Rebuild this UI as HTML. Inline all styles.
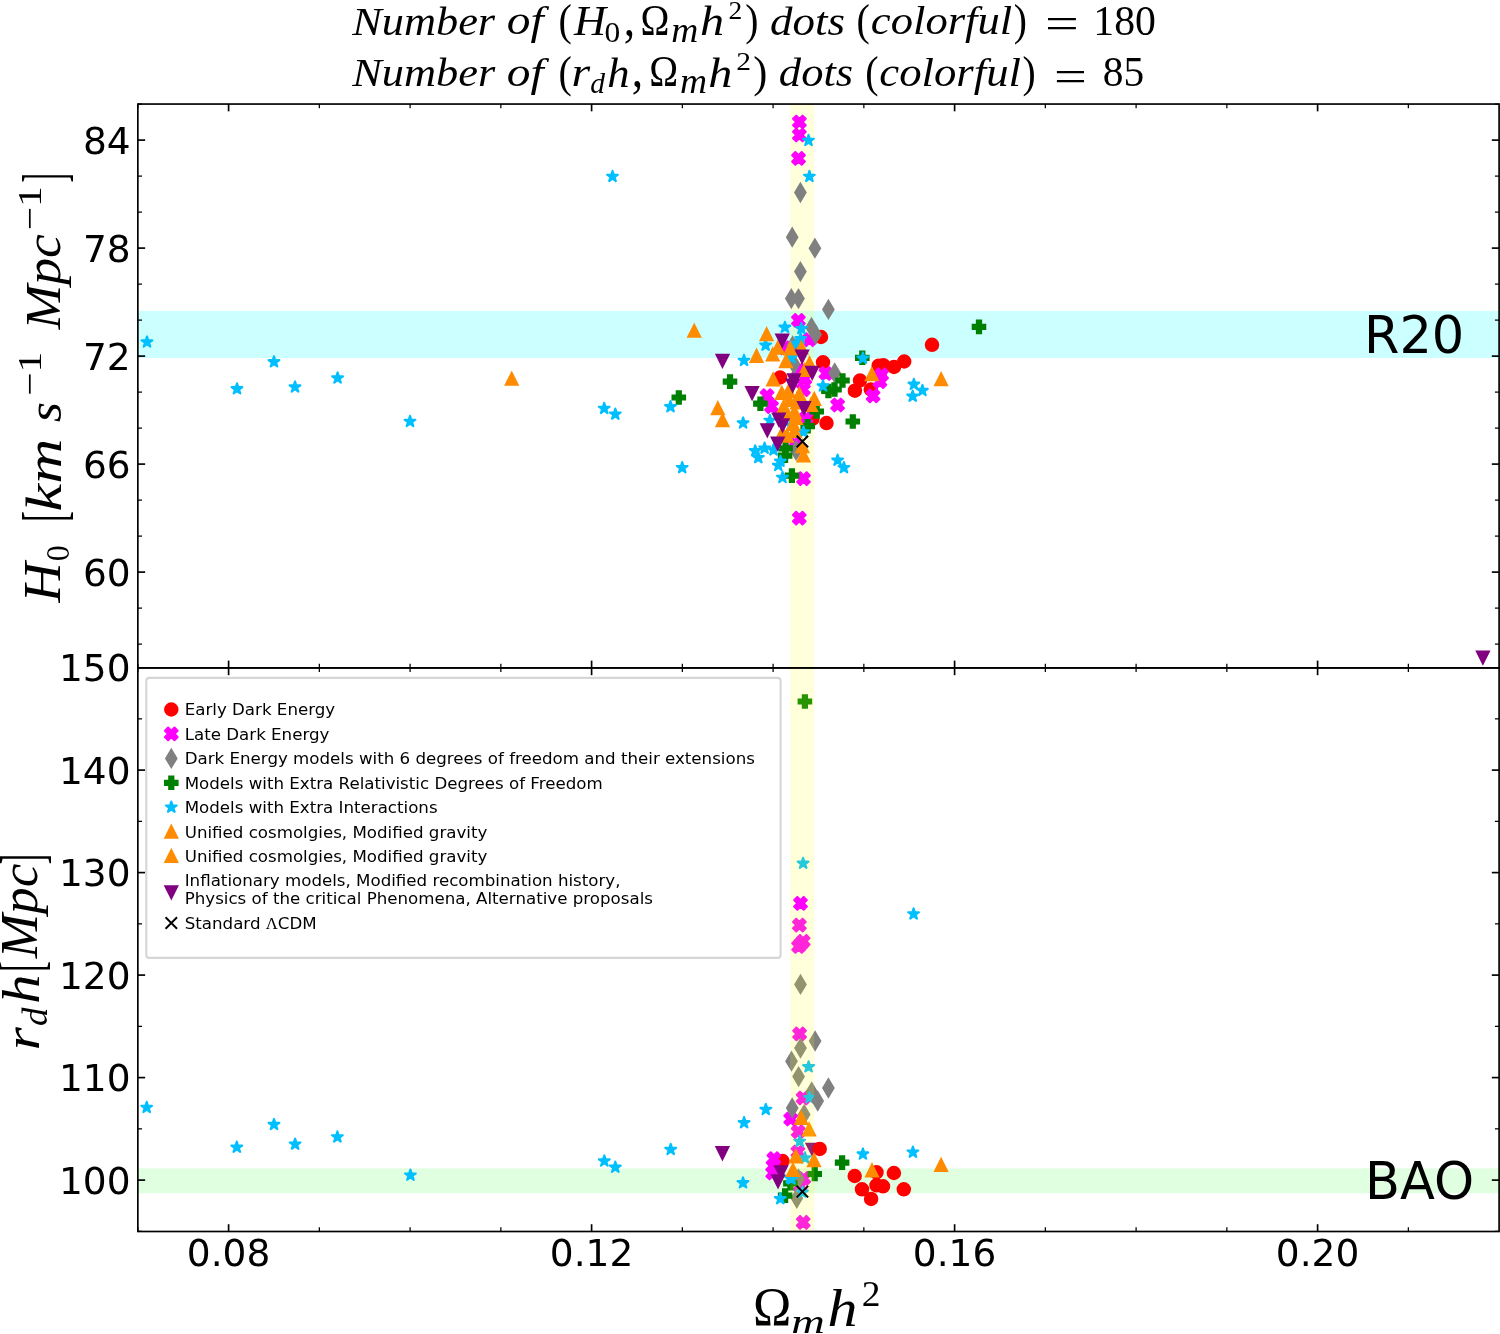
<!DOCTYPE html>
<html><head><meta charset="utf-8"><title>plot</title>
<style>html,body{margin:0;padding:0;background:#fff;} svg{display:block;}</style></head>
<body><svg width="1500" height="1334" viewBox="0 0 1500 1334">
<defs><clipPath id="ct"><rect x="137.85" y="104.05" width="1361.25" height="563.85"/></clipPath>
<clipPath id="cb"><rect x="137.85" y="667.9" width="1361.25" height="563.6"/></clipPath></defs>
<rect x="0" y="0" width="1500" height="1334" fill="#fff"/>
<rect x="137.85" y="310.9" width="1361.25" height="47.1" fill="rgb(204,255,255)"/>
<rect x="137.85" y="1168.4" width="1361.25" height="24.8" fill="rgb(224,254,224)"/>
<rect x="790.1" y="104.05" width="24.1" height="563.85" fill="#ffff00" fill-opacity="0.14"/>
<g clip-path="url(#ct)">
<circle cx="821.00" cy="337.00" r="6.20" fill="#ff0000" stroke="#ff0000" stroke-width="2.083"/>
<circle cx="823.00" cy="362.30" r="6.20" fill="#ff0000" stroke="#ff0000" stroke-width="2.083"/>
<circle cx="780.10" cy="377.50" r="6.20" fill="#ff0000" stroke="#ff0000" stroke-width="2.083"/>
<circle cx="904.20" cy="361.50" r="6.20" fill="#ff0000" stroke="#ff0000" stroke-width="2.083"/>
<circle cx="894.00" cy="366.90" r="6.20" fill="#ff0000" stroke="#ff0000" stroke-width="2.083"/>
<circle cx="883.30" cy="365.20" r="6.20" fill="#ff0000" stroke="#ff0000" stroke-width="2.083"/>
<circle cx="878.70" cy="365.70" r="6.20" fill="#ff0000" stroke="#ff0000" stroke-width="2.083"/>
<circle cx="879.90" cy="372.50" r="6.20" fill="#ff0000" stroke="#ff0000" stroke-width="2.083"/>
<circle cx="860.00" cy="380.50" r="6.20" fill="#ff0000" stroke="#ff0000" stroke-width="2.083"/>
<circle cx="854.90" cy="390.70" r="6.20" fill="#ff0000" stroke="#ff0000" stroke-width="2.083"/>
<circle cx="870.80" cy="389.50" r="6.20" fill="#ff0000" stroke="#ff0000" stroke-width="2.083"/>
<circle cx="932.00" cy="344.80" r="6.20" fill="#ff0000" stroke="#ff0000" stroke-width="2.083"/>
<circle cx="826.50" cy="423.10" r="6.20" fill="#ff0000" stroke="#ff0000" stroke-width="2.083"/>
<circle cx="812.40" cy="418.90" r="6.20" fill="#ff0000" stroke="#ff0000" stroke-width="2.083"/>
<path d="M796.23 115.65L799.40 118.83L802.57 115.65L805.75 118.83L802.57 122.00L805.75 125.17L802.57 128.35L799.40 125.17L796.23 128.35L793.05 125.17L796.23 122.00L793.05 118.83Z" fill="#ff00ff" stroke="#ff00ff" stroke-width="2.083" stroke-linejoin="round"/>
<path d="M796.23 128.65L799.40 131.82L802.57 128.65L805.75 131.82L802.57 135.00L805.75 138.18L802.57 141.35L799.40 138.18L796.23 141.35L793.05 138.18L796.23 135.00L793.05 131.82Z" fill="#ff00ff" stroke="#ff00ff" stroke-width="2.083" stroke-linejoin="round"/>
<path d="M795.33 152.05L798.50 155.22L801.67 152.05L804.85 155.22L801.67 158.40L804.85 161.58L801.67 164.75L798.50 161.58L795.33 164.75L792.15 161.58L795.33 158.40L792.15 155.22Z" fill="#ff00ff" stroke="#ff00ff" stroke-width="2.083" stroke-linejoin="round"/>
<path d="M795.23 314.05L798.40 317.22L801.57 314.05L804.75 317.22L801.57 320.40L804.75 323.57L801.57 326.75L798.40 323.57L795.23 326.75L792.05 323.57L795.23 320.40L792.05 317.22Z" fill="#ff00ff" stroke="#ff00ff" stroke-width="2.083" stroke-linejoin="round"/>
<path d="M806.33 333.35L809.50 336.52L812.67 333.35L815.85 336.52L812.67 339.70L815.85 342.88L812.67 346.05L809.50 342.88L806.33 346.05L803.15 342.88L806.33 339.70L803.15 336.52Z" fill="#ff00ff" stroke="#ff00ff" stroke-width="2.083" stroke-linejoin="round"/>
<path d="M781.33 341.45L784.50 344.62L787.67 341.45L790.85 344.62L787.67 347.80L790.85 350.98L787.67 354.15L784.50 350.98L781.33 354.15L778.15 350.98L781.33 347.80L778.15 344.62Z" fill="#ff00ff" stroke="#ff00ff" stroke-width="2.083" stroke-linejoin="round"/>
<path d="M795.53 363.65L798.70 366.82L801.88 363.65L805.05 366.82L801.88 370.00L805.05 373.18L801.88 376.35L798.70 373.18L795.53 376.35L792.35 373.18L795.53 370.00L792.35 366.82Z" fill="#ff00ff" stroke="#ff00ff" stroke-width="2.083" stroke-linejoin="round"/>
<path d="M822.83 367.15L826.00 370.32L829.17 367.15L832.35 370.32L829.17 373.50L832.35 376.68L829.17 379.85L826.00 376.68L822.83 379.85L819.65 376.68L822.83 373.50L819.65 370.32Z" fill="#ff00ff" stroke="#ff00ff" stroke-width="2.083" stroke-linejoin="round"/>
<path d="M801.62 372.45L804.80 375.62L807.97 372.45L811.15 375.62L807.97 378.80L811.15 381.98L807.97 385.15L804.80 381.98L801.62 385.15L798.45 381.98L801.62 378.80L798.45 375.62Z" fill="#ff00ff" stroke="#ff00ff" stroke-width="2.083" stroke-linejoin="round"/>
<path d="M800.23 383.25L803.40 386.43L806.57 383.25L809.75 386.43L806.57 389.60L809.75 392.78L806.57 395.95L803.40 392.78L800.23 395.95L797.05 392.78L800.23 389.60L797.05 386.43Z" fill="#ff00ff" stroke="#ff00ff" stroke-width="2.083" stroke-linejoin="round"/>
<path d="M763.83 389.35L767.00 392.52L770.17 389.35L773.35 392.52L770.17 395.70L773.35 398.88L770.17 402.05L767.00 398.88L763.83 402.05L760.65 398.88L763.83 395.70L760.65 392.52Z" fill="#ff00ff" stroke="#ff00ff" stroke-width="2.083" stroke-linejoin="round"/>
<path d="M768.33 400.25L771.50 403.43L774.67 400.25L777.85 403.43L774.67 406.60L777.85 409.78L774.67 412.95L771.50 409.78L768.33 412.95L765.15 409.78L768.33 406.60L765.15 403.43Z" fill="#ff00ff" stroke="#ff00ff" stroke-width="2.083" stroke-linejoin="round"/>
<path d="M834.43 398.65L837.60 401.82L840.77 398.65L843.95 401.82L840.77 405.00L843.95 408.18L840.77 411.35L837.60 408.18L834.43 411.35L831.25 408.18L834.43 405.00L831.25 401.82Z" fill="#ff00ff" stroke="#ff00ff" stroke-width="2.083" stroke-linejoin="round"/>
<path d="M869.93 389.45L873.10 392.62L876.27 389.45L879.45 392.62L876.27 395.80L879.45 398.98L876.27 402.15L873.10 398.98L869.93 402.15L866.75 398.98L869.93 395.80L866.75 392.62Z" fill="#ff00ff" stroke="#ff00ff" stroke-width="2.083" stroke-linejoin="round"/>
<path d="M802.73 411.75L805.90 414.93L809.07 411.75L812.25 414.93L809.07 418.10L812.25 421.28L809.07 424.45L805.90 421.28L802.73 424.45L799.55 421.28L802.73 418.10L799.55 414.93Z" fill="#ff00ff" stroke="#ff00ff" stroke-width="2.083" stroke-linejoin="round"/>
<path d="M791.33 437.15L794.50 440.32L797.67 437.15L800.85 440.32L797.67 443.50L800.85 446.68L797.67 449.85L794.50 446.68L791.33 449.85L788.15 446.68L791.33 443.50L788.15 440.32Z" fill="#ff00ff" stroke="#ff00ff" stroke-width="2.083" stroke-linejoin="round"/>
<path d="M800.33 472.35L803.50 475.52L806.67 472.35L809.85 475.52L806.67 478.70L809.85 481.88L806.67 485.05L803.50 481.88L800.33 485.05L797.15 481.88L800.33 478.70L797.15 475.52Z" fill="#ff00ff" stroke="#ff00ff" stroke-width="2.083" stroke-linejoin="round"/>
<path d="M796.12 511.75L799.30 514.93L802.47 511.75L805.65 514.93L802.47 518.10L805.65 521.27L802.47 524.45L799.30 521.27L796.12 524.45L792.95 521.27L796.12 518.10L792.95 514.93Z" fill="#ff00ff" stroke="#ff00ff" stroke-width="2.083" stroke-linejoin="round"/>
<path d="M878.43 368.45L881.60 371.62L884.77 368.45L887.95 371.62L884.77 374.80L887.95 377.98L884.77 381.15L881.60 377.98L878.43 381.15L875.25 377.98L878.43 374.80L875.25 371.62Z" fill="#ff00ff" stroke="#ff00ff" stroke-width="2.083" stroke-linejoin="round"/>
<path d="M876.73 375.25L879.90 378.43L883.07 375.25L886.25 378.43L883.07 381.60L886.25 384.78L883.07 387.95L879.90 384.78L876.73 387.95L873.55 384.78L876.73 381.60L873.55 378.43Z" fill="#ff00ff" stroke="#ff00ff" stroke-width="2.083" stroke-linejoin="round"/>
<path d="M800.40 183.87L805.58 192.50L800.40 201.13L795.22 192.50Z" fill="#808080" stroke="#808080" stroke-width="2.083" stroke-linejoin="miter"/>
<path d="M792.20 228.57L797.38 237.20L792.20 245.83L787.02 237.20Z" fill="#808080" stroke="#808080" stroke-width="2.083" stroke-linejoin="miter"/>
<path d="M814.90 239.57L820.08 248.20L814.90 256.83L809.72 248.20Z" fill="#808080" stroke="#808080" stroke-width="2.083" stroke-linejoin="miter"/>
<path d="M800.40 262.97L805.58 271.60L800.40 280.23L795.22 271.60Z" fill="#808080" stroke="#808080" stroke-width="2.083" stroke-linejoin="miter"/>
<path d="M791.30 289.97L796.48 298.60L791.30 307.23L786.12 298.60Z" fill="#808080" stroke="#808080" stroke-width="2.083" stroke-linejoin="miter"/>
<path d="M798.50 289.97L803.68 298.60L798.50 307.23L793.32 298.60Z" fill="#808080" stroke="#808080" stroke-width="2.083" stroke-linejoin="miter"/>
<path d="M828.40 300.77L833.58 309.40L828.40 318.03L823.22 309.40Z" fill="#808080" stroke="#808080" stroke-width="2.083" stroke-linejoin="miter"/>
<path d="M811.50 318.77L816.68 327.40L811.50 336.03L806.32 327.40Z" fill="#808080" stroke="#808080" stroke-width="2.083" stroke-linejoin="miter"/>
<path d="M815.60 325.77L820.78 334.40L815.60 343.03L810.42 334.40Z" fill="#808080" stroke="#808080" stroke-width="2.083" stroke-linejoin="miter"/>
<path d="M792.60 337.37L797.78 346.00L792.60 354.63L787.42 346.00Z" fill="#808080" stroke="#808080" stroke-width="2.083" stroke-linejoin="miter"/>
<path d="M794.00 355.37L799.18 364.00L794.00 372.63L788.82 364.00Z" fill="#808080" stroke="#808080" stroke-width="2.083" stroke-linejoin="miter"/>
<path d="M834.70 364.37L839.88 373.00L834.70 381.63L829.52 373.00Z" fill="#808080" stroke="#808080" stroke-width="2.083" stroke-linejoin="miter"/>
<path d="M796.10 441.77L801.28 450.40L796.10 459.03L790.92 450.40Z" fill="#808080" stroke="#808080" stroke-width="2.083" stroke-linejoin="miter"/>
<path d="M976.92 320.65L981.08 320.65L981.08 324.82L985.25 324.82L985.25 328.98L981.08 328.98L981.08 333.15L976.92 333.15L976.92 328.98L972.75 328.98L972.75 324.82L976.92 324.82Z" fill="#008000" stroke="#008000" stroke-width="2.083" stroke-linejoin="miter"/>
<path d="M860.22 351.55L864.38 351.55L864.38 355.72L868.55 355.72L868.55 359.88L864.38 359.88L864.38 364.05L860.22 364.05L860.22 359.88L856.05 359.88L856.05 355.72L860.22 355.72Z" fill="#008000" stroke="#008000" stroke-width="2.083" stroke-linejoin="miter"/>
<path d="M727.92 375.35L732.08 375.35L732.08 379.52L736.25 379.52L736.25 383.68L732.08 383.68L732.08 387.85L727.92 387.85L727.92 383.68L723.75 383.68L723.75 379.52L727.92 379.52Z" fill="#008000" stroke="#008000" stroke-width="2.083" stroke-linejoin="miter"/>
<path d="M676.72 391.25L680.88 391.25L680.88 395.42L685.05 395.42L685.05 399.58L680.88 399.58L680.88 403.75L676.72 403.75L676.72 399.58L672.55 399.58L672.55 395.42L676.72 395.42Z" fill="#008000" stroke="#008000" stroke-width="2.083" stroke-linejoin="miter"/>
<path d="M840.42 374.25L844.58 374.25L844.58 378.42L848.75 378.42L848.75 382.58L844.58 382.58L844.58 386.75L840.42 386.75L840.42 382.58L836.25 382.58L836.25 378.42L840.42 378.42Z" fill="#008000" stroke="#008000" stroke-width="2.083" stroke-linejoin="miter"/>
<path d="M832.42 383.25L836.58 383.25L836.58 387.42L840.75 387.42L840.75 391.58L836.58 391.58L836.58 395.75L832.42 395.75L832.42 391.58L828.25 391.58L828.25 387.42L832.42 387.42Z" fill="#008000" stroke="#008000" stroke-width="2.083" stroke-linejoin="miter"/>
<path d="M758.32 397.45L762.48 397.45L762.48 401.62L766.65 401.62L766.65 405.78L762.48 405.78L762.48 409.95L758.32 409.95L758.32 405.78L754.15 405.78L754.15 401.62L758.32 401.62Z" fill="#008000" stroke="#008000" stroke-width="2.083" stroke-linejoin="miter"/>
<path d="M814.62 405.25L818.78 405.25L818.78 409.42L822.95 409.42L822.95 413.58L818.78 413.58L818.78 417.75L814.62 417.75L814.62 413.58L810.45 413.58L810.45 409.42L814.62 409.42Z" fill="#008000" stroke="#008000" stroke-width="2.083" stroke-linejoin="miter"/>
<path d="M805.62 419.95L809.78 419.95L809.78 424.12L813.95 424.12L813.95 428.28L809.78 428.28L809.78 432.45L805.62 432.45L805.62 428.28L801.45 428.28L801.45 424.12L805.62 424.12Z" fill="#008000" stroke="#008000" stroke-width="2.083" stroke-linejoin="miter"/>
<path d="M850.72 415.25L854.88 415.25L854.88 419.42L859.05 419.42L859.05 423.58L854.88 423.58L854.88 427.75L850.72 427.75L850.72 423.58L846.55 423.58L846.55 419.42L850.72 419.42Z" fill="#008000" stroke="#008000" stroke-width="2.083" stroke-linejoin="miter"/>
<path d="M783.52 442.05L787.68 442.05L787.68 446.22L791.85 446.22L791.85 450.38L787.68 450.38L787.68 454.55L783.52 454.55L783.52 450.38L779.35 450.38L779.35 446.22L783.52 446.22Z" fill="#008000" stroke="#008000" stroke-width="2.083" stroke-linejoin="miter"/>
<path d="M783.02 449.35L787.18 449.35L787.18 453.52L791.35 453.52L791.35 457.68L787.18 457.68L787.18 461.85L783.02 461.85L783.02 457.68L778.85 457.68L778.85 453.52L783.02 453.52Z" fill="#008000" stroke="#008000" stroke-width="2.083" stroke-linejoin="miter"/>
<path d="M789.82 469.35L793.98 469.35L793.98 473.52L798.15 473.52L798.15 477.68L793.98 477.68L793.98 481.85L789.82 481.85L789.82 477.68L785.65 477.68L785.65 473.52L789.82 473.52Z" fill="#008000" stroke="#008000" stroke-width="2.083" stroke-linejoin="miter"/>
<path d="M826.32 384.75L830.48 384.75L830.48 388.92L834.65 388.92L834.65 393.08L830.48 393.08L830.48 397.25L826.32 397.25L826.32 393.08L822.15 393.08L822.15 388.92L826.32 388.92Z" fill="#008000" stroke="#008000" stroke-width="2.083" stroke-linejoin="miter"/>
<path d="M147.00 336.40L145.72 340.34L141.58 340.34L144.93 342.77L143.65 346.71L147.00 344.28L150.35 346.71L149.07 342.77L152.42 340.34L148.28 340.34Z" fill="#00bfff" stroke="#00bfff" stroke-width="2.083" stroke-linejoin="round"/>
<path d="M237.00 383.20L235.72 387.14L231.58 387.14L234.93 389.57L233.65 393.51L237.00 391.08L240.35 393.51L239.07 389.57L242.42 387.14L238.28 387.14Z" fill="#00bfff" stroke="#00bfff" stroke-width="2.083" stroke-linejoin="round"/>
<path d="M274.00 356.20L272.72 360.14L268.58 360.14L271.93 362.57L270.65 366.51L274.00 364.08L277.35 366.51L276.07 362.57L279.42 360.14L275.28 360.14Z" fill="#00bfff" stroke="#00bfff" stroke-width="2.083" stroke-linejoin="round"/>
<path d="M295.00 381.40L293.72 385.34L289.58 385.34L292.93 387.77L291.65 391.71L295.00 389.28L298.35 391.71L297.07 387.77L300.42 385.34L296.28 385.34Z" fill="#00bfff" stroke="#00bfff" stroke-width="2.083" stroke-linejoin="round"/>
<path d="M337.60 372.40L336.32 376.34L332.18 376.34L335.53 378.77L334.25 382.71L337.60 380.28L340.95 382.71L339.67 378.77L343.02 376.34L338.88 376.34Z" fill="#00bfff" stroke="#00bfff" stroke-width="2.083" stroke-linejoin="round"/>
<path d="M410.00 415.80L408.72 419.74L404.58 419.74L407.93 422.17L406.65 426.11L410.00 423.68L413.35 426.11L412.07 422.17L415.42 419.74L411.28 419.74Z" fill="#00bfff" stroke="#00bfff" stroke-width="2.083" stroke-linejoin="round"/>
<path d="M612.50 170.80L611.22 174.74L607.08 174.74L610.43 177.17L609.15 181.11L612.50 178.68L615.85 181.11L614.57 177.17L617.92 174.74L613.78 174.74Z" fill="#00bfff" stroke="#00bfff" stroke-width="2.083" stroke-linejoin="round"/>
<path d="M604.20 402.80L602.92 406.74L598.78 406.74L602.13 409.17L600.85 413.11L604.20 410.68L607.55 413.11L606.27 409.17L609.62 406.74L605.48 406.74Z" fill="#00bfff" stroke="#00bfff" stroke-width="2.083" stroke-linejoin="round"/>
<path d="M615.30 408.50L614.02 412.44L609.88 412.44L613.23 414.87L611.95 418.81L615.30 416.38L618.65 418.81L617.37 414.87L620.72 412.44L616.58 412.44Z" fill="#00bfff" stroke="#00bfff" stroke-width="2.083" stroke-linejoin="round"/>
<path d="M670.50 401.10L669.22 405.04L665.08 405.04L668.43 407.47L667.15 411.41L670.50 408.98L673.85 411.41L672.57 407.47L675.92 405.04L671.78 405.04Z" fill="#00bfff" stroke="#00bfff" stroke-width="2.083" stroke-linejoin="round"/>
<path d="M682.20 462.00L680.92 465.94L676.78 465.94L680.13 468.37L678.85 472.31L682.20 469.88L685.55 472.31L684.27 468.37L687.62 465.94L683.48 465.94Z" fill="#00bfff" stroke="#00bfff" stroke-width="2.083" stroke-linejoin="round"/>
<path d="M808.50 134.80L807.22 138.74L803.08 138.74L806.43 141.17L805.15 145.11L808.50 142.68L811.85 145.11L810.57 141.17L813.92 138.74L809.78 138.74Z" fill="#00bfff" stroke="#00bfff" stroke-width="2.083" stroke-linejoin="round"/>
<path d="M809.40 170.80L808.12 174.74L803.98 174.74L807.33 177.17L806.05 181.11L809.40 178.68L812.75 181.11L811.47 177.17L814.82 174.74L810.68 174.74Z" fill="#00bfff" stroke="#00bfff" stroke-width="2.083" stroke-linejoin="round"/>
<path d="M784.90 321.70L783.62 325.64L779.48 325.64L782.83 328.07L781.55 332.01L784.90 329.58L788.25 332.01L786.97 328.07L790.32 325.64L786.18 325.64Z" fill="#00bfff" stroke="#00bfff" stroke-width="2.083" stroke-linejoin="round"/>
<path d="M801.40 323.00L800.12 326.94L795.98 326.94L799.33 329.37L798.05 333.31L801.40 330.88L804.75 333.31L803.47 329.37L806.82 326.94L802.68 326.94Z" fill="#00bfff" stroke="#00bfff" stroke-width="2.083" stroke-linejoin="round"/>
<path d="M765.60 339.50L764.32 343.44L760.18 343.44L763.53 345.87L762.25 349.81L765.60 347.38L768.95 349.81L767.67 345.87L771.02 343.44L766.88 343.44Z" fill="#00bfff" stroke="#00bfff" stroke-width="2.083" stroke-linejoin="round"/>
<path d="M744.00 354.80L742.72 358.74L738.58 358.74L741.93 361.17L740.65 365.11L744.00 362.68L747.35 365.11L746.07 361.17L749.42 358.74L745.28 358.74Z" fill="#00bfff" stroke="#00bfff" stroke-width="2.083" stroke-linejoin="round"/>
<path d="M800.70 333.10L799.42 337.04L795.28 337.04L798.63 339.47L797.35 343.41L800.70 340.98L804.05 343.41L802.77 339.47L806.12 337.04L801.98 337.04Z" fill="#00bfff" stroke="#00bfff" stroke-width="2.083" stroke-linejoin="round"/>
<path d="M796.70 337.90L795.42 341.84L791.28 341.84L794.63 344.27L793.35 348.21L796.70 345.78L800.05 348.21L798.77 344.27L802.12 341.84L797.98 341.84Z" fill="#00bfff" stroke="#00bfff" stroke-width="2.083" stroke-linejoin="round"/>
<path d="M823.00 380.40L821.72 384.34L817.58 384.34L820.93 386.77L819.65 390.71L823.00 388.28L826.35 390.71L825.07 386.77L828.42 384.34L824.28 384.34Z" fill="#00bfff" stroke="#00bfff" stroke-width="2.083" stroke-linejoin="round"/>
<path d="M791.30 352.00L790.02 355.94L785.88 355.94L789.23 358.37L787.95 362.31L791.30 359.88L794.65 362.31L793.37 358.37L796.72 355.94L792.58 355.94Z" fill="#00bfff" stroke="#00bfff" stroke-width="2.083" stroke-linejoin="round"/>
<path d="M743.10 417.40L741.82 421.34L737.68 421.34L741.03 423.77L739.75 427.71L743.10 425.28L746.45 427.71L745.17 423.77L748.52 421.34L744.38 421.34Z" fill="#00bfff" stroke="#00bfff" stroke-width="2.083" stroke-linejoin="round"/>
<path d="M769.90 414.80L768.62 418.74L764.48 418.74L767.83 421.17L766.55 425.11L769.90 422.68L773.25 425.11L771.97 421.17L775.32 418.74L771.18 418.74Z" fill="#00bfff" stroke="#00bfff" stroke-width="2.083" stroke-linejoin="round"/>
<path d="M803.50 426.30L802.22 430.24L798.08 430.24L801.43 432.67L800.15 436.61L803.50 434.18L806.85 436.61L805.57 432.67L808.92 430.24L804.78 430.24Z" fill="#00bfff" stroke="#00bfff" stroke-width="2.083" stroke-linejoin="round"/>
<path d="M790.90 419.50L789.62 423.44L785.48 423.44L788.83 425.87L787.55 429.81L790.90 427.38L794.25 429.81L792.97 425.87L796.32 423.44L792.18 423.44Z" fill="#00bfff" stroke="#00bfff" stroke-width="2.083" stroke-linejoin="round"/>
<path d="M755.20 445.20L753.92 449.14L749.78 449.14L753.13 451.57L751.85 455.51L755.20 453.08L758.55 455.51L757.27 451.57L760.62 449.14L756.48 449.14Z" fill="#00bfff" stroke="#00bfff" stroke-width="2.083" stroke-linejoin="round"/>
<path d="M773.50 444.30L772.22 448.24L768.08 448.24L771.43 450.67L770.15 454.61L773.50 452.18L776.85 454.61L775.57 450.67L778.92 448.24L774.78 448.24Z" fill="#00bfff" stroke="#00bfff" stroke-width="2.083" stroke-linejoin="round"/>
<path d="M764.60 442.50L763.32 446.44L759.18 446.44L762.53 448.87L761.25 452.81L764.60 450.38L767.95 452.81L766.67 448.87L770.02 446.44L765.88 446.44Z" fill="#00bfff" stroke="#00bfff" stroke-width="2.083" stroke-linejoin="round"/>
<path d="M758.30 452.00L757.02 455.94L752.88 455.94L756.23 458.37L754.95 462.31L758.30 459.88L761.65 462.31L760.37 458.37L763.72 455.94L759.58 455.94Z" fill="#00bfff" stroke="#00bfff" stroke-width="2.083" stroke-linejoin="round"/>
<path d="M780.40 455.70L779.12 459.64L774.98 459.64L778.33 462.07L777.05 466.01L780.40 463.58L783.75 466.01L782.47 462.07L785.82 459.64L781.68 459.64Z" fill="#00bfff" stroke="#00bfff" stroke-width="2.083" stroke-linejoin="round"/>
<path d="M778.30 459.90L777.02 463.84L772.88 463.84L776.23 466.27L774.95 470.21L778.30 467.78L781.65 470.21L780.37 466.27L783.72 463.84L779.58 463.84Z" fill="#00bfff" stroke="#00bfff" stroke-width="2.083" stroke-linejoin="round"/>
<path d="M782.50 471.90L781.22 475.84L777.08 475.84L780.43 478.27L779.15 482.21L782.50 479.78L785.85 482.21L784.57 478.27L787.92 475.84L783.78 475.84Z" fill="#00bfff" stroke="#00bfff" stroke-width="2.083" stroke-linejoin="round"/>
<path d="M837.60 454.60L836.32 458.54L832.18 458.54L835.53 460.97L834.25 464.91L837.60 462.48L840.95 464.91L839.67 460.97L843.02 458.54L838.88 458.54Z" fill="#00bfff" stroke="#00bfff" stroke-width="2.083" stroke-linejoin="round"/>
<path d="M843.90 462.00L842.62 465.94L838.48 465.94L841.83 468.37L840.55 472.31L843.90 469.88L847.25 472.31L845.97 468.37L849.32 465.94L845.18 465.94Z" fill="#00bfff" stroke="#00bfff" stroke-width="2.083" stroke-linejoin="round"/>
<path d="M862.90 352.60L861.62 356.54L857.48 356.54L860.83 358.97L859.55 362.91L862.90 360.48L866.25 362.91L864.97 358.97L868.32 356.54L864.18 356.54Z" fill="#00bfff" stroke="#00bfff" stroke-width="2.083" stroke-linejoin="round"/>
<path d="M913.90 378.70L912.62 382.64L908.48 382.64L911.83 385.07L910.55 389.01L913.90 386.58L917.25 389.01L915.97 385.07L919.32 382.64L915.18 382.64Z" fill="#00bfff" stroke="#00bfff" stroke-width="2.083" stroke-linejoin="round"/>
<path d="M922.40 384.90L921.12 388.84L916.98 388.84L920.33 391.27L919.05 395.21L922.40 392.78L925.75 395.21L924.47 391.27L927.82 388.84L923.68 388.84Z" fill="#00bfff" stroke="#00bfff" stroke-width="2.083" stroke-linejoin="round"/>
<path d="M912.70 390.60L911.42 394.54L907.28 394.54L910.63 396.97L909.35 400.91L912.70 398.48L916.05 400.91L914.77 396.97L918.12 394.54L913.98 394.54Z" fill="#00bfff" stroke="#00bfff" stroke-width="2.083" stroke-linejoin="round"/>
<path d="M511.70 372.85L505.75 384.75L517.65 384.75Z" fill="#ff8c00" stroke="#ff8c00" stroke-width="2.083" stroke-linejoin="miter"/>
<path d="M694.20 324.85L688.25 336.75L700.15 336.75Z" fill="#ff8c00" stroke="#ff8c00" stroke-width="2.083" stroke-linejoin="miter"/>
<path d="M717.80 402.35L711.85 414.25L723.75 414.25Z" fill="#ff8c00" stroke="#ff8c00" stroke-width="2.083" stroke-linejoin="miter"/>
<path d="M722.50 414.35L716.55 426.25L728.45 426.25Z" fill="#ff8c00" stroke="#ff8c00" stroke-width="2.083" stroke-linejoin="miter"/>
<path d="M766.60 328.35L760.65 340.25L772.55 340.25Z" fill="#ff8c00" stroke="#ff8c00" stroke-width="2.083" stroke-linejoin="miter"/>
<path d="M756.50 349.95L750.55 361.85L762.45 361.85Z" fill="#ff8c00" stroke="#ff8c00" stroke-width="2.083" stroke-linejoin="miter"/>
<path d="M772.70 348.55L766.75 360.45L778.65 360.45Z" fill="#ff8c00" stroke="#ff8c00" stroke-width="2.083" stroke-linejoin="miter"/>
<path d="M777.80 341.85L771.85 353.75L783.75 353.75Z" fill="#ff8c00" stroke="#ff8c00" stroke-width="2.083" stroke-linejoin="miter"/>
<path d="M790.30 342.55L784.35 354.45L796.25 354.45Z" fill="#ff8c00" stroke="#ff8c00" stroke-width="2.083" stroke-linejoin="miter"/>
<path d="M801.40 341.85L795.45 353.75L807.35 353.75Z" fill="#ff8c00" stroke="#ff8c00" stroke-width="2.083" stroke-linejoin="miter"/>
<path d="M785.90 355.35L779.95 367.25L791.85 367.25Z" fill="#ff8c00" stroke="#ff8c00" stroke-width="2.083" stroke-linejoin="miter"/>
<path d="M809.50 357.35L803.55 369.25L815.45 369.25Z" fill="#ff8c00" stroke="#ff8c00" stroke-width="2.083" stroke-linejoin="miter"/>
<path d="M773.10 373.55L767.15 385.45L779.05 385.45Z" fill="#ff8c00" stroke="#ff8c00" stroke-width="2.083" stroke-linejoin="miter"/>
<path d="M804.80 364.05L798.85 375.95L810.75 375.95Z" fill="#ff8c00" stroke="#ff8c00" stroke-width="2.083" stroke-linejoin="miter"/>
<path d="M781.80 387.05L775.85 398.95L787.75 398.95Z" fill="#ff8c00" stroke="#ff8c00" stroke-width="2.083" stroke-linejoin="miter"/>
<path d="M788.60 385.05L782.65 396.95L794.55 396.95Z" fill="#ff8c00" stroke="#ff8c00" stroke-width="2.083" stroke-linejoin="miter"/>
<path d="M799.40 388.35L793.45 400.25L805.35 400.25Z" fill="#ff8c00" stroke="#ff8c00" stroke-width="2.083" stroke-linejoin="miter"/>
<path d="M814.30 393.05L808.35 404.95L820.25 404.95Z" fill="#ff8c00" stroke="#ff8c00" stroke-width="2.083" stroke-linejoin="miter"/>
<path d="M811.00 399.05L805.05 410.95L816.95 410.95Z" fill="#ff8c00" stroke="#ff8c00" stroke-width="2.083" stroke-linejoin="miter"/>
<path d="M783.70 400.65L777.75 412.55L789.65 412.55Z" fill="#ff8c00" stroke="#ff8c00" stroke-width="2.083" stroke-linejoin="miter"/>
<path d="M794.50 406.05L788.55 417.95L800.45 417.95Z" fill="#ff8c00" stroke="#ff8c00" stroke-width="2.083" stroke-linejoin="miter"/>
<path d="M793.10 418.15L787.15 430.05L799.05 430.05Z" fill="#ff8c00" stroke="#ff8c00" stroke-width="2.083" stroke-linejoin="miter"/>
<path d="M782.30 426.95L776.35 438.85L788.25 438.85Z" fill="#ff8c00" stroke="#ff8c00" stroke-width="2.083" stroke-linejoin="miter"/>
<path d="M794.50 424.95L788.55 436.85L800.45 436.85Z" fill="#ff8c00" stroke="#ff8c00" stroke-width="2.083" stroke-linejoin="miter"/>
<path d="M787.00 429.85L781.05 441.75L792.95 441.75Z" fill="#ff8c00" stroke="#ff8c00" stroke-width="2.083" stroke-linejoin="miter"/>
<path d="M802.40 440.25L796.45 452.15L808.35 452.15Z" fill="#ff8c00" stroke="#ff8c00" stroke-width="2.083" stroke-linejoin="miter"/>
<path d="M803.50 449.65L797.55 461.55L809.45 461.55Z" fill="#ff8c00" stroke="#ff8c00" stroke-width="2.083" stroke-linejoin="miter"/>
<path d="M789.00 394.05L783.05 405.95L794.95 405.95Z" fill="#ff8c00" stroke="#ff8c00" stroke-width="2.083" stroke-linejoin="miter"/>
<path d="M797.00 396.55L791.05 408.45L802.95 408.45Z" fill="#ff8c00" stroke="#ff8c00" stroke-width="2.083" stroke-linejoin="miter"/>
<path d="M786.00 408.05L780.05 419.95L791.95 419.95Z" fill="#ff8c00" stroke="#ff8c00" stroke-width="2.083" stroke-linejoin="miter"/>
<path d="M796.00 412.05L790.05 423.95L801.95 423.95Z" fill="#ff8c00" stroke="#ff8c00" stroke-width="2.083" stroke-linejoin="miter"/>
<path d="M871.90 368.25L865.95 380.15L877.85 380.15Z" fill="#ff8c00" stroke="#ff8c00" stroke-width="2.083" stroke-linejoin="miter"/>
<path d="M941.10 373.35L935.15 385.25L947.05 385.25Z" fill="#ff8c00" stroke="#ff8c00" stroke-width="2.083" stroke-linejoin="miter"/>
<path d="M1482.90 663.45L1476.95 651.55L1488.85 651.55Z" fill="#800080" stroke="#800080" stroke-width="2.083" stroke-linejoin="miter"/>
<path d="M722.50 366.75L716.55 354.85L728.45 354.85Z" fill="#800080" stroke="#800080" stroke-width="2.083" stroke-linejoin="miter"/>
<path d="M782.20 346.35L776.25 334.45L788.15 334.45Z" fill="#800080" stroke="#800080" stroke-width="2.083" stroke-linejoin="miter"/>
<path d="M802.10 362.55L796.15 350.65L808.05 350.65Z" fill="#800080" stroke="#800080" stroke-width="2.083" stroke-linejoin="miter"/>
<path d="M812.20 378.65L806.25 366.75L818.15 366.75Z" fill="#800080" stroke="#800080" stroke-width="2.083" stroke-linejoin="miter"/>
<path d="M794.00 386.15L788.05 374.25L799.95 374.25Z" fill="#800080" stroke="#800080" stroke-width="2.083" stroke-linejoin="miter"/>
<path d="M792.60 391.35L786.65 379.45L798.55 379.45Z" fill="#800080" stroke="#800080" stroke-width="2.083" stroke-linejoin="miter"/>
<path d="M752.10 398.95L746.15 387.05L758.05 387.05Z" fill="#800080" stroke="#800080" stroke-width="2.083" stroke-linejoin="miter"/>
<path d="M804.00 413.85L798.05 401.95L809.95 401.95Z" fill="#800080" stroke="#800080" stroke-width="2.083" stroke-linejoin="miter"/>
<path d="M778.80 425.35L772.85 413.45L784.75 413.45Z" fill="#800080" stroke="#800080" stroke-width="2.083" stroke-linejoin="miter"/>
<path d="M782.50 431.15L776.55 419.25L788.45 419.25Z" fill="#800080" stroke="#800080" stroke-width="2.083" stroke-linejoin="miter"/>
<path d="M767.30 436.15L761.35 424.25L773.25 424.25Z" fill="#800080" stroke="#800080" stroke-width="2.083" stroke-linejoin="miter"/>
<path d="M777.70 449.45L771.75 437.55L783.65 437.55Z" fill="#800080" stroke="#800080" stroke-width="2.083" stroke-linejoin="miter"/>
<path d="M796.65 435.75L808.15 447.25M796.65 447.25L808.15 435.75" stroke="#000" stroke-width="1.9" fill="none"/>
</g>
<g clip-path="url(#cb)">
<path d="M796.23 918.75L799.40 921.93L802.57 918.75L805.75 921.93L802.57 925.10L805.75 928.27L802.57 931.45L799.40 928.27L796.23 931.45L793.05 928.27L796.23 925.10L793.05 921.93Z" fill="#ff00ff" stroke="#ff00ff" stroke-width="2.083" stroke-linejoin="round"/>
<path d="M795.43 940.15L798.60 943.33L801.77 940.15L804.95 943.33L801.77 946.50L804.95 949.67L801.77 952.85L798.60 949.67L795.43 952.85L792.25 949.67L795.43 946.50L792.25 943.33Z" fill="#ff00ff" stroke="#ff00ff" stroke-width="2.083" stroke-linejoin="round"/>
<path d="M800.03 934.95L803.20 938.12L806.38 934.95L809.55 938.12L806.38 941.30L809.55 944.47L806.38 947.65L803.20 944.47L800.03 947.65L796.85 944.47L800.03 941.30L796.85 938.12Z" fill="#ff00ff" stroke="#ff00ff" stroke-width="2.083" stroke-linejoin="round"/>
<path d="M797.73 937.55L800.90 940.73L804.07 937.55L807.25 940.73L804.07 943.90L807.25 947.07L804.07 950.25L800.90 947.07L797.73 950.25L794.55 947.07L797.73 943.90L794.55 940.73Z" fill="#ff00ff" stroke="#ff00ff" stroke-width="2.083" stroke-linejoin="round"/>
<path d="M796.43 1027.55L799.60 1030.73L802.77 1027.55L805.95 1030.73L802.77 1033.90L805.95 1037.08L802.77 1040.25L799.60 1037.08L796.43 1040.25L793.25 1037.08L796.43 1033.90L793.25 1030.73Z" fill="#ff00ff" stroke="#ff00ff" stroke-width="2.083" stroke-linejoin="round"/>
<path d="M799.93 1091.65L803.10 1094.83L806.27 1091.65L809.45 1094.83L806.27 1098.00L809.45 1101.17L806.27 1104.35L803.10 1101.17L799.93 1104.35L796.75 1101.17L799.93 1098.00L796.75 1094.83Z" fill="#ff00ff" stroke="#ff00ff" stroke-width="2.083" stroke-linejoin="round"/>
<path d="M795.03 1125.35L798.20 1128.53L801.38 1125.35L804.55 1128.53L801.38 1131.70L804.55 1134.88L801.38 1138.05L798.20 1134.88L795.03 1138.05L791.85 1134.88L795.03 1131.70L791.85 1128.53Z" fill="#ff00ff" stroke="#ff00ff" stroke-width="2.083" stroke-linejoin="round"/>
<path d="M794.73 1145.65L797.90 1148.83L801.07 1145.65L804.25 1148.83L801.07 1152.00L804.25 1155.17L801.07 1158.35L797.90 1155.17L794.73 1158.35L791.55 1155.17L794.73 1152.00L791.55 1148.83Z" fill="#ff00ff" stroke="#ff00ff" stroke-width="2.083" stroke-linejoin="round"/>
<path d="M800.53 1172.15L803.70 1175.33L806.88 1172.15L810.05 1175.33L806.88 1178.50L810.05 1181.67L806.88 1184.85L803.70 1181.67L800.53 1184.85L797.35 1181.67L800.53 1178.50L797.35 1175.33Z" fill="#ff00ff" stroke="#ff00ff" stroke-width="2.083" stroke-linejoin="round"/>
<path d="M796.83 1179.65L800.00 1182.83L803.17 1179.65L806.35 1182.83L803.17 1186.00L806.35 1189.17L803.17 1192.35L800.00 1189.17L796.83 1192.35L793.65 1189.17L796.83 1186.00L793.65 1182.83Z" fill="#ff00ff" stroke="#ff00ff" stroke-width="2.083" stroke-linejoin="round"/>
<path d="M800.03 1215.95L803.20 1219.12L806.38 1215.95L809.55 1219.12L806.38 1222.30L809.55 1225.47L806.38 1228.65L803.20 1225.47L800.03 1228.65L796.85 1225.47L800.03 1222.30L796.85 1219.12Z" fill="#ff00ff" stroke="#ff00ff" stroke-width="2.083" stroke-linejoin="round"/>
<path d="M800.50 975.77L805.68 984.40L800.50 993.03L795.32 984.40Z" fill="#808080" stroke="#808080" stroke-width="2.083" stroke-linejoin="miter"/>
<path d="M800.50 1039.47L805.68 1048.10L800.50 1056.73L795.32 1048.10Z" fill="#808080" stroke="#808080" stroke-width="2.083" stroke-linejoin="miter"/>
<path d="M815.10 1032.37L820.28 1041.00L815.10 1049.63L809.92 1041.00Z" fill="#808080" stroke="#808080" stroke-width="2.083" stroke-linejoin="miter"/>
<path d="M791.50 1052.57L796.68 1061.20L791.50 1069.83L786.32 1061.20Z" fill="#808080" stroke="#808080" stroke-width="2.083" stroke-linejoin="miter"/>
<path d="M798.60 1067.97L803.78 1076.60L798.60 1085.23L793.42 1076.60Z" fill="#808080" stroke="#808080" stroke-width="2.083" stroke-linejoin="miter"/>
<path d="M811.70 1083.37L816.88 1092.00L811.70 1100.63L806.52 1092.00Z" fill="#808080" stroke="#808080" stroke-width="2.083" stroke-linejoin="miter"/>
<path d="M804.20 1105.87L809.38 1114.50L804.20 1123.13L799.02 1114.50Z" fill="#808080" stroke="#808080" stroke-width="2.083" stroke-linejoin="miter"/>
<path d="M798.40 1170.37L803.58 1179.00L798.40 1187.63L793.22 1179.00Z" fill="#808080" stroke="#808080" stroke-width="2.083" stroke-linejoin="miter"/>
<path d="M796.80 1189.67L801.98 1198.30L796.80 1206.93L791.62 1198.30Z" fill="#808080" stroke="#808080" stroke-width="2.083" stroke-linejoin="miter"/>
<path d="M802.82 695.25L806.98 695.25L806.98 699.42L811.15 699.42L811.15 703.58L806.98 703.58L806.98 707.75L802.82 707.75L802.82 703.58L798.65 703.58L798.65 699.42L802.82 699.42Z" fill="#008000" stroke="#008000" stroke-width="2.083" stroke-linejoin="miter"/>
<path d="M812.62 1167.75L816.78 1167.75L816.78 1171.92L820.95 1171.92L820.95 1176.08L816.78 1176.08L816.78 1180.25L812.62 1180.25L812.62 1176.08L808.45 1176.08L808.45 1171.92L812.62 1171.92Z" fill="#008000" stroke="#008000" stroke-width="2.083" stroke-linejoin="miter"/>
<path d="M788.32 1177.05L792.48 1177.05L792.48 1181.22L796.65 1181.22L796.65 1185.38L792.48 1185.38L792.48 1189.55L788.32 1189.55L788.32 1185.38L784.15 1185.38L784.15 1181.22L788.32 1181.22Z" fill="#008000" stroke="#008000" stroke-width="2.083" stroke-linejoin="miter"/>
<path d="M803.10 857.70L801.82 861.64L797.68 861.64L801.03 864.07L799.75 868.01L803.10 865.58L806.45 868.01L805.17 864.07L808.52 861.64L804.38 861.64Z" fill="#00bfff" stroke="#00bfff" stroke-width="2.083" stroke-linejoin="round"/>
<path d="M808.60 1061.20L807.32 1065.14L803.18 1065.14L806.53 1067.57L805.25 1071.51L808.60 1069.08L811.95 1071.51L810.67 1067.57L814.02 1065.14L809.88 1065.14Z" fill="#00bfff" stroke="#00bfff" stroke-width="2.083" stroke-linejoin="round"/>
<path d="M809.50 1092.00L808.22 1095.94L804.08 1095.94L807.43 1098.37L806.15 1102.31L809.50 1099.88L812.85 1102.31L811.57 1098.37L814.92 1095.94L810.78 1095.94Z" fill="#00bfff" stroke="#00bfff" stroke-width="2.083" stroke-linejoin="round"/>
<path d="M799.70 1135.80L798.42 1139.74L794.28 1139.74L797.63 1142.17L796.35 1146.11L799.70 1143.68L803.05 1146.11L801.77 1142.17L805.12 1139.74L800.98 1139.74Z" fill="#00bfff" stroke="#00bfff" stroke-width="2.083" stroke-linejoin="round"/>
<path d="M805.00 1152.30L803.72 1156.24L799.58 1156.24L802.93 1158.67L801.65 1162.61L805.00 1160.18L808.35 1162.61L807.07 1158.67L810.42 1156.24L806.28 1156.24Z" fill="#00bfff" stroke="#00bfff" stroke-width="2.083" stroke-linejoin="round"/>
<path d="M802.40 1186.70L801.12 1190.64L796.98 1190.64L800.33 1193.07L799.05 1197.01L802.40 1194.58L805.75 1197.01L804.47 1193.07L807.82 1190.64L803.68 1190.64Z" fill="#00bfff" stroke="#00bfff" stroke-width="2.083" stroke-linejoin="round"/>
<path d="M809.10 1123.55L803.15 1135.45L815.05 1135.45Z" fill="#ff8c00" stroke="#ff8c00" stroke-width="2.083" stroke-linejoin="miter"/>
<path d="M812.50 1155.65L806.55 1143.75L818.45 1143.75Z" fill="#800080" stroke="#800080" stroke-width="2.083" stroke-linejoin="miter"/>
</g>
<rect x="790.1" y="667.9" width="24.1" height="563.6" fill="#ffff00" fill-opacity="0.15"/>
<g clip-path="url(#cb)">
<circle cx="819.70" cy="1148.90" r="6.20" fill="#ff0000" stroke="#ff0000" stroke-width="2.083"/>
<circle cx="782.50" cy="1161.00" r="6.20" fill="#ff0000" stroke="#ff0000" stroke-width="2.083"/>
<circle cx="854.70" cy="1176.00" r="6.20" fill="#ff0000" stroke="#ff0000" stroke-width="2.083"/>
<circle cx="876.50" cy="1172.30" r="6.20" fill="#ff0000" stroke="#ff0000" stroke-width="2.083"/>
<circle cx="893.90" cy="1173.00" r="6.20" fill="#ff0000" stroke="#ff0000" stroke-width="2.083"/>
<circle cx="862.00" cy="1189.30" r="6.20" fill="#ff0000" stroke="#ff0000" stroke-width="2.083"/>
<circle cx="876.50" cy="1185.30" r="6.20" fill="#ff0000" stroke="#ff0000" stroke-width="2.083"/>
<circle cx="883.00" cy="1186.30" r="6.20" fill="#ff0000" stroke="#ff0000" stroke-width="2.083"/>
<circle cx="903.80" cy="1189.30" r="6.20" fill="#ff0000" stroke="#ff0000" stroke-width="2.083"/>
<circle cx="871.10" cy="1198.90" r="6.20" fill="#ff0000" stroke="#ff0000" stroke-width="2.083"/>
<path d="M797.33 896.95L800.50 900.12L803.67 896.95L806.85 900.12L803.67 903.30L806.85 906.47L803.67 909.65L800.50 906.47L797.33 909.65L794.15 906.47L797.33 903.30L794.15 900.12Z" fill="#ff00ff" stroke="#ff00ff" stroke-width="2.083" stroke-linejoin="round"/>
<path d="M787.53 1112.65L790.70 1115.83L793.88 1112.65L797.05 1115.83L793.88 1119.00L797.05 1122.17L793.88 1125.35L790.70 1122.17L787.53 1125.35L784.35 1122.17L787.53 1119.00L784.35 1115.83Z" fill="#ff00ff" stroke="#ff00ff" stroke-width="2.083" stroke-linejoin="round"/>
<path d="M770.73 1152.35L773.90 1155.53L777.07 1152.35L780.25 1155.53L777.07 1158.70L780.25 1161.88L777.07 1165.05L773.90 1161.88L770.73 1165.05L767.55 1161.88L770.73 1158.70L767.55 1155.53Z" fill="#ff00ff" stroke="#ff00ff" stroke-width="2.083" stroke-linejoin="round"/>
<path d="M769.93 1159.65L773.10 1162.83L776.27 1159.65L779.45 1162.83L776.27 1166.00L779.45 1169.17L776.27 1172.35L773.10 1169.17L769.93 1172.35L766.75 1169.17L769.93 1166.00L766.75 1162.83Z" fill="#ff00ff" stroke="#ff00ff" stroke-width="2.083" stroke-linejoin="round"/>
<path d="M769.53 1166.65L772.70 1169.83L775.88 1166.65L779.05 1169.83L775.88 1173.00L779.05 1176.17L775.88 1179.35L772.70 1176.17L769.53 1179.35L766.35 1176.17L769.53 1173.00L766.35 1169.83Z" fill="#ff00ff" stroke="#ff00ff" stroke-width="2.083" stroke-linejoin="round"/>
<path d="M828.40 1079.37L833.58 1088.00L828.40 1096.63L823.22 1088.00Z" fill="#808080" stroke="#808080" stroke-width="2.083" stroke-linejoin="miter"/>
<path d="M817.70 1092.37L822.88 1101.00L817.70 1109.63L812.52 1101.00Z" fill="#808080" stroke="#808080" stroke-width="2.083" stroke-linejoin="miter"/>
<path d="M792.20 1099.37L797.38 1108.00L792.20 1116.63L787.02 1108.00Z" fill="#808080" stroke="#808080" stroke-width="2.083" stroke-linejoin="miter"/>
<path d="M840.02 1156.35L844.18 1156.35L844.18 1160.52L848.35 1160.52L848.35 1164.68L844.18 1164.68L844.18 1168.85L840.02 1168.85L840.02 1164.68L835.85 1164.68L835.85 1160.52L840.02 1160.52Z" fill="#008000" stroke="#008000" stroke-width="2.083" stroke-linejoin="miter"/>
<path d="M783.02 1189.35L787.18 1189.35L787.18 1193.52L791.35 1193.52L791.35 1197.68L787.18 1197.68L787.18 1201.85L783.02 1201.85L783.02 1197.68L778.85 1197.68L778.85 1193.52L783.02 1193.52Z" fill="#008000" stroke="#008000" stroke-width="2.083" stroke-linejoin="miter"/>
<path d="M146.70 1101.80L145.42 1105.74L141.28 1105.74L144.63 1108.17L143.35 1112.11L146.70 1109.68L150.05 1112.11L148.77 1108.17L152.12 1105.74L147.98 1105.74Z" fill="#00bfff" stroke="#00bfff" stroke-width="2.083" stroke-linejoin="round"/>
<path d="M236.80 1141.60L235.52 1145.54L231.38 1145.54L234.73 1147.97L233.45 1151.91L236.80 1149.48L240.15 1151.91L238.87 1147.97L242.22 1145.54L238.08 1145.54Z" fill="#00bfff" stroke="#00bfff" stroke-width="2.083" stroke-linejoin="round"/>
<path d="M274.00 1118.90L272.72 1122.84L268.58 1122.84L271.93 1125.27L270.65 1129.21L274.00 1126.78L277.35 1129.21L276.07 1125.27L279.42 1122.84L275.28 1122.84Z" fill="#00bfff" stroke="#00bfff" stroke-width="2.083" stroke-linejoin="round"/>
<path d="M295.10 1138.50L293.82 1142.44L289.68 1142.44L293.03 1144.87L291.75 1148.81L295.10 1146.38L298.45 1148.81L297.17 1144.87L300.52 1142.44L296.38 1142.44Z" fill="#00bfff" stroke="#00bfff" stroke-width="2.083" stroke-linejoin="round"/>
<path d="M337.40 1131.30L336.12 1135.24L331.98 1135.24L335.33 1137.67L334.05 1141.61L337.40 1139.18L340.75 1141.61L339.47 1137.67L342.82 1135.24L338.68 1135.24Z" fill="#00bfff" stroke="#00bfff" stroke-width="2.083" stroke-linejoin="round"/>
<path d="M410.40 1169.50L409.12 1173.44L404.98 1173.44L408.33 1175.87L407.05 1179.81L410.40 1177.38L413.75 1179.81L412.47 1175.87L415.82 1173.44L411.68 1173.44Z" fill="#00bfff" stroke="#00bfff" stroke-width="2.083" stroke-linejoin="round"/>
<path d="M604.30 1155.40L603.02 1159.34L598.88 1159.34L602.23 1161.77L600.95 1165.71L604.30 1163.28L607.65 1165.71L606.37 1161.77L609.72 1159.34L605.58 1159.34Z" fill="#00bfff" stroke="#00bfff" stroke-width="2.083" stroke-linejoin="round"/>
<path d="M615.30 1161.60L614.02 1165.54L609.88 1165.54L613.23 1167.97L611.95 1171.91L615.30 1169.48L618.65 1171.91L617.37 1167.97L620.72 1165.54L616.58 1165.54Z" fill="#00bfff" stroke="#00bfff" stroke-width="2.083" stroke-linejoin="round"/>
<path d="M670.70 1143.90L669.42 1147.84L665.28 1147.84L668.63 1150.27L667.35 1154.21L670.70 1151.78L674.05 1154.21L672.77 1150.27L676.12 1147.84L671.98 1147.84Z" fill="#00bfff" stroke="#00bfff" stroke-width="2.083" stroke-linejoin="round"/>
<path d="M744.10 1117.10L742.82 1121.04L738.68 1121.04L742.03 1123.47L740.75 1127.41L744.10 1124.98L747.45 1127.41L746.17 1123.47L749.52 1121.04L745.38 1121.04Z" fill="#00bfff" stroke="#00bfff" stroke-width="2.083" stroke-linejoin="round"/>
<path d="M765.80 1103.90L764.52 1107.84L760.38 1107.84L763.73 1110.27L762.45 1114.21L765.80 1111.78L769.15 1114.21L767.87 1110.27L771.22 1107.84L767.08 1107.84Z" fill="#00bfff" stroke="#00bfff" stroke-width="2.083" stroke-linejoin="round"/>
<path d="M743.00 1177.20L741.72 1181.14L737.58 1181.14L740.93 1183.57L739.65 1187.51L743.00 1185.08L746.35 1187.51L745.07 1183.57L748.42 1181.14L744.28 1181.14Z" fill="#00bfff" stroke="#00bfff" stroke-width="2.083" stroke-linejoin="round"/>
<path d="M862.90 1148.40L861.62 1152.34L857.48 1152.34L860.83 1154.77L859.55 1158.71L862.90 1156.28L866.25 1158.71L864.97 1154.77L868.32 1152.34L864.18 1152.34Z" fill="#00bfff" stroke="#00bfff" stroke-width="2.083" stroke-linejoin="round"/>
<path d="M912.90 1146.50L911.62 1150.44L907.48 1150.44L910.83 1152.87L909.55 1156.81L912.90 1154.38L916.25 1156.81L914.97 1152.87L918.32 1150.44L914.18 1150.44Z" fill="#00bfff" stroke="#00bfff" stroke-width="2.083" stroke-linejoin="round"/>
<path d="M913.60 908.30L912.32 912.24L908.18 912.24L911.53 914.67L910.25 918.61L913.60 916.18L916.95 918.61L915.67 914.67L919.02 912.24L914.88 912.24Z" fill="#00bfff" stroke="#00bfff" stroke-width="2.083" stroke-linejoin="round"/>
<path d="M791.50 1173.30L790.22 1177.24L786.08 1177.24L789.43 1179.67L788.15 1183.61L791.50 1181.18L794.85 1183.61L793.57 1179.67L796.92 1177.24L792.78 1177.24Z" fill="#00bfff" stroke="#00bfff" stroke-width="2.083" stroke-linejoin="round"/>
<path d="M780.30 1193.10L779.02 1197.04L774.88 1197.04L778.23 1199.47L776.95 1203.41L780.30 1200.98L783.65 1203.41L782.37 1199.47L785.72 1197.04L781.58 1197.04Z" fill="#00bfff" stroke="#00bfff" stroke-width="2.083" stroke-linejoin="round"/>
<path d="M789.90 1172.30L788.62 1176.24L784.48 1176.24L787.83 1178.67L786.55 1182.61L789.90 1180.18L793.25 1182.61L791.97 1178.67L795.32 1176.24L791.18 1176.24Z" fill="#00bfff" stroke="#00bfff" stroke-width="2.083" stroke-linejoin="round"/>
<path d="M941.10 1159.05L935.15 1170.95L947.05 1170.95Z" fill="#ff8c00" stroke="#ff8c00" stroke-width="2.083" stroke-linejoin="miter"/>
<path d="M872.00 1164.45L866.05 1176.35L877.95 1176.35Z" fill="#ff8c00" stroke="#ff8c00" stroke-width="2.083" stroke-linejoin="miter"/>
<path d="M801.20 1112.05L795.25 1123.95L807.15 1123.95Z" fill="#ff8c00" stroke="#ff8c00" stroke-width="2.083" stroke-linejoin="miter"/>
<path d="M796.00 1150.55L790.05 1162.45L801.95 1162.45Z" fill="#ff8c00" stroke="#ff8c00" stroke-width="2.083" stroke-linejoin="miter"/>
<path d="M814.00 1154.25L808.05 1166.15L819.95 1166.15Z" fill="#ff8c00" stroke="#ff8c00" stroke-width="2.083" stroke-linejoin="miter"/>
<path d="M793.00 1164.05L787.05 1175.95L798.95 1175.95Z" fill="#ff8c00" stroke="#ff8c00" stroke-width="2.083" stroke-linejoin="miter"/>
<path d="M722.40 1159.05L716.45 1147.15L728.35 1147.15Z" fill="#800080" stroke="#800080" stroke-width="2.083" stroke-linejoin="miter"/>
<path d="M781.00 1178.15L775.05 1166.25L786.95 1166.25Z" fill="#800080" stroke="#800080" stroke-width="2.083" stroke-linejoin="miter"/>
<path d="M778.00 1187.15L772.05 1175.25L783.95 1175.25Z" fill="#800080" stroke="#800080" stroke-width="2.083" stroke-linejoin="miter"/>
<path d="M796.65 1185.85L808.15 1197.35M796.65 1197.35L808.15 1185.85" stroke="#000" stroke-width="1.9" fill="none"/>
</g>
<line x1="137.85" y1="644.10" x2="142.02" y2="644.10" stroke="#000" stroke-width="1.25"/><line x1="1499.1" y1="644.10" x2="1494.93" y2="644.10" stroke="#000" stroke-width="1.25"/>
<line x1="137.85" y1="608.10" x2="142.02" y2="608.10" stroke="#000" stroke-width="1.25"/><line x1="1499.1" y1="608.10" x2="1494.93" y2="608.10" stroke="#000" stroke-width="1.25"/>
<line x1="137.85" y1="572.10" x2="145.14" y2="572.10" stroke="#000" stroke-width="1.667"/><line x1="1499.1" y1="572.10" x2="1491.81" y2="572.10" stroke="#000" stroke-width="1.667"/>
<line x1="137.85" y1="536.10" x2="142.02" y2="536.10" stroke="#000" stroke-width="1.25"/><line x1="1499.1" y1="536.10" x2="1494.93" y2="536.10" stroke="#000" stroke-width="1.25"/>
<line x1="137.85" y1="500.10" x2="142.02" y2="500.10" stroke="#000" stroke-width="1.25"/><line x1="1499.1" y1="500.10" x2="1494.93" y2="500.10" stroke="#000" stroke-width="1.25"/>
<line x1="137.85" y1="464.10" x2="145.14" y2="464.10" stroke="#000" stroke-width="1.667"/><line x1="1499.1" y1="464.10" x2="1491.81" y2="464.10" stroke="#000" stroke-width="1.667"/>
<line x1="137.85" y1="428.10" x2="142.02" y2="428.10" stroke="#000" stroke-width="1.25"/><line x1="1499.1" y1="428.10" x2="1494.93" y2="428.10" stroke="#000" stroke-width="1.25"/>
<line x1="137.85" y1="392.10" x2="142.02" y2="392.10" stroke="#000" stroke-width="1.25"/><line x1="1499.1" y1="392.10" x2="1494.93" y2="392.10" stroke="#000" stroke-width="1.25"/>
<line x1="137.85" y1="356.10" x2="145.14" y2="356.10" stroke="#000" stroke-width="1.667"/><line x1="1499.1" y1="356.10" x2="1491.81" y2="356.10" stroke="#000" stroke-width="1.667"/>
<line x1="137.85" y1="320.10" x2="142.02" y2="320.10" stroke="#000" stroke-width="1.25"/><line x1="1499.1" y1="320.10" x2="1494.93" y2="320.10" stroke="#000" stroke-width="1.25"/>
<line x1="137.85" y1="284.10" x2="142.02" y2="284.10" stroke="#000" stroke-width="1.25"/><line x1="1499.1" y1="284.10" x2="1494.93" y2="284.10" stroke="#000" stroke-width="1.25"/>
<line x1="137.85" y1="248.10" x2="145.14" y2="248.10" stroke="#000" stroke-width="1.667"/><line x1="1499.1" y1="248.10" x2="1491.81" y2="248.10" stroke="#000" stroke-width="1.667"/>
<line x1="137.85" y1="212.10" x2="142.02" y2="212.10" stroke="#000" stroke-width="1.25"/><line x1="1499.1" y1="212.10" x2="1494.93" y2="212.10" stroke="#000" stroke-width="1.25"/>
<line x1="137.85" y1="176.10" x2="142.02" y2="176.10" stroke="#000" stroke-width="1.25"/><line x1="1499.1" y1="176.10" x2="1494.93" y2="176.10" stroke="#000" stroke-width="1.25"/>
<line x1="137.85" y1="140.10" x2="145.14" y2="140.10" stroke="#000" stroke-width="1.667"/><line x1="1499.1" y1="140.10" x2="1491.81" y2="140.10" stroke="#000" stroke-width="1.667"/>
<line x1="137.85" y1="104.10" x2="142.02" y2="104.10" stroke="#000" stroke-width="1.25"/><line x1="1499.1" y1="104.10" x2="1494.93" y2="104.10" stroke="#000" stroke-width="1.25"/>
<line x1="137.85" y1="1231.35" x2="142.02" y2="1231.35" stroke="#000" stroke-width="1.25"/><line x1="1499.1" y1="1231.35" x2="1494.93" y2="1231.35" stroke="#000" stroke-width="1.25"/>
<line x1="137.85" y1="1180.10" x2="145.14" y2="1180.10" stroke="#000" stroke-width="1.667"/><line x1="1499.1" y1="1180.10" x2="1491.81" y2="1180.10" stroke="#000" stroke-width="1.667"/>
<line x1="137.85" y1="1128.85" x2="142.02" y2="1128.85" stroke="#000" stroke-width="1.25"/><line x1="1499.1" y1="1128.85" x2="1494.93" y2="1128.85" stroke="#000" stroke-width="1.25"/>
<line x1="137.85" y1="1077.60" x2="145.14" y2="1077.60" stroke="#000" stroke-width="1.667"/><line x1="1499.1" y1="1077.60" x2="1491.81" y2="1077.60" stroke="#000" stroke-width="1.667"/>
<line x1="137.85" y1="1026.35" x2="142.02" y2="1026.35" stroke="#000" stroke-width="1.25"/><line x1="1499.1" y1="1026.35" x2="1494.93" y2="1026.35" stroke="#000" stroke-width="1.25"/>
<line x1="137.85" y1="975.10" x2="145.14" y2="975.10" stroke="#000" stroke-width="1.667"/><line x1="1499.1" y1="975.10" x2="1491.81" y2="975.10" stroke="#000" stroke-width="1.667"/>
<line x1="137.85" y1="923.85" x2="142.02" y2="923.85" stroke="#000" stroke-width="1.25"/><line x1="1499.1" y1="923.85" x2="1494.93" y2="923.85" stroke="#000" stroke-width="1.25"/>
<line x1="137.85" y1="872.60" x2="145.14" y2="872.60" stroke="#000" stroke-width="1.667"/><line x1="1499.1" y1="872.60" x2="1491.81" y2="872.60" stroke="#000" stroke-width="1.667"/>
<line x1="137.85" y1="821.35" x2="142.02" y2="821.35" stroke="#000" stroke-width="1.25"/><line x1="1499.1" y1="821.35" x2="1494.93" y2="821.35" stroke="#000" stroke-width="1.25"/>
<line x1="137.85" y1="770.10" x2="145.14" y2="770.10" stroke="#000" stroke-width="1.667"/><line x1="1499.1" y1="770.10" x2="1491.81" y2="770.10" stroke="#000" stroke-width="1.667"/>
<line x1="137.85" y1="718.85" x2="142.02" y2="718.85" stroke="#000" stroke-width="1.25"/><line x1="1499.1" y1="718.85" x2="1494.93" y2="718.85" stroke="#000" stroke-width="1.25"/>
<line x1="137.85" y1="104.05" x2="137.85" y2="108.22" stroke="#000" stroke-width="1.25"/>
<line x1="137.85" y1="667.9" x2="137.85" y2="663.73" stroke="#000" stroke-width="1.25"/>
<line x1="137.85" y1="667.9" x2="137.85" y2="672.07" stroke="#000" stroke-width="1.25"/>
<line x1="137.85" y1="1231.5" x2="137.85" y2="1227.33" stroke="#000" stroke-width="1.25"/>
<line x1="228.60" y1="104.05" x2="228.60" y2="111.34" stroke="#000" stroke-width="1.667"/>
<line x1="228.60" y1="667.9" x2="228.60" y2="660.61" stroke="#000" stroke-width="1.667"/>
<line x1="228.60" y1="667.9" x2="228.60" y2="675.19" stroke="#000" stroke-width="1.667"/>
<line x1="228.60" y1="1231.5" x2="228.60" y2="1224.21" stroke="#000" stroke-width="1.667"/>
<line x1="319.35" y1="104.05" x2="319.35" y2="108.22" stroke="#000" stroke-width="1.25"/>
<line x1="319.35" y1="667.9" x2="319.35" y2="663.73" stroke="#000" stroke-width="1.25"/>
<line x1="319.35" y1="667.9" x2="319.35" y2="672.07" stroke="#000" stroke-width="1.25"/>
<line x1="319.35" y1="1231.5" x2="319.35" y2="1227.33" stroke="#000" stroke-width="1.25"/>
<line x1="410.10" y1="104.05" x2="410.10" y2="108.22" stroke="#000" stroke-width="1.25"/>
<line x1="410.10" y1="667.9" x2="410.10" y2="663.73" stroke="#000" stroke-width="1.25"/>
<line x1="410.10" y1="667.9" x2="410.10" y2="672.07" stroke="#000" stroke-width="1.25"/>
<line x1="410.10" y1="1231.5" x2="410.10" y2="1227.33" stroke="#000" stroke-width="1.25"/>
<line x1="500.85" y1="104.05" x2="500.85" y2="108.22" stroke="#000" stroke-width="1.25"/>
<line x1="500.85" y1="667.9" x2="500.85" y2="663.73" stroke="#000" stroke-width="1.25"/>
<line x1="500.85" y1="667.9" x2="500.85" y2="672.07" stroke="#000" stroke-width="1.25"/>
<line x1="500.85" y1="1231.5" x2="500.85" y2="1227.33" stroke="#000" stroke-width="1.25"/>
<line x1="591.60" y1="104.05" x2="591.60" y2="111.34" stroke="#000" stroke-width="1.667"/>
<line x1="591.60" y1="667.9" x2="591.60" y2="660.61" stroke="#000" stroke-width="1.667"/>
<line x1="591.60" y1="667.9" x2="591.60" y2="675.19" stroke="#000" stroke-width="1.667"/>
<line x1="591.60" y1="1231.5" x2="591.60" y2="1224.21" stroke="#000" stroke-width="1.667"/>
<line x1="682.35" y1="104.05" x2="682.35" y2="108.22" stroke="#000" stroke-width="1.25"/>
<line x1="682.35" y1="667.9" x2="682.35" y2="663.73" stroke="#000" stroke-width="1.25"/>
<line x1="682.35" y1="667.9" x2="682.35" y2="672.07" stroke="#000" stroke-width="1.25"/>
<line x1="682.35" y1="1231.5" x2="682.35" y2="1227.33" stroke="#000" stroke-width="1.25"/>
<line x1="773.10" y1="104.05" x2="773.10" y2="108.22" stroke="#000" stroke-width="1.25"/>
<line x1="773.10" y1="667.9" x2="773.10" y2="663.73" stroke="#000" stroke-width="1.25"/>
<line x1="773.10" y1="667.9" x2="773.10" y2="672.07" stroke="#000" stroke-width="1.25"/>
<line x1="773.10" y1="1231.5" x2="773.10" y2="1227.33" stroke="#000" stroke-width="1.25"/>
<line x1="863.85" y1="104.05" x2="863.85" y2="108.22" stroke="#000" stroke-width="1.25"/>
<line x1="863.85" y1="667.9" x2="863.85" y2="663.73" stroke="#000" stroke-width="1.25"/>
<line x1="863.85" y1="667.9" x2="863.85" y2="672.07" stroke="#000" stroke-width="1.25"/>
<line x1="863.85" y1="1231.5" x2="863.85" y2="1227.33" stroke="#000" stroke-width="1.25"/>
<line x1="954.60" y1="104.05" x2="954.60" y2="111.34" stroke="#000" stroke-width="1.667"/>
<line x1="954.60" y1="667.9" x2="954.60" y2="660.61" stroke="#000" stroke-width="1.667"/>
<line x1="954.60" y1="667.9" x2="954.60" y2="675.19" stroke="#000" stroke-width="1.667"/>
<line x1="954.60" y1="1231.5" x2="954.60" y2="1224.21" stroke="#000" stroke-width="1.667"/>
<line x1="1045.35" y1="104.05" x2="1045.35" y2="108.22" stroke="#000" stroke-width="1.25"/>
<line x1="1045.35" y1="667.9" x2="1045.35" y2="663.73" stroke="#000" stroke-width="1.25"/>
<line x1="1045.35" y1="667.9" x2="1045.35" y2="672.07" stroke="#000" stroke-width="1.25"/>
<line x1="1045.35" y1="1231.5" x2="1045.35" y2="1227.33" stroke="#000" stroke-width="1.25"/>
<line x1="1136.10" y1="104.05" x2="1136.10" y2="108.22" stroke="#000" stroke-width="1.25"/>
<line x1="1136.10" y1="667.9" x2="1136.10" y2="663.73" stroke="#000" stroke-width="1.25"/>
<line x1="1136.10" y1="667.9" x2="1136.10" y2="672.07" stroke="#000" stroke-width="1.25"/>
<line x1="1136.10" y1="1231.5" x2="1136.10" y2="1227.33" stroke="#000" stroke-width="1.25"/>
<line x1="1226.85" y1="104.05" x2="1226.85" y2="108.22" stroke="#000" stroke-width="1.25"/>
<line x1="1226.85" y1="667.9" x2="1226.85" y2="663.73" stroke="#000" stroke-width="1.25"/>
<line x1="1226.85" y1="667.9" x2="1226.85" y2="672.07" stroke="#000" stroke-width="1.25"/>
<line x1="1226.85" y1="1231.5" x2="1226.85" y2="1227.33" stroke="#000" stroke-width="1.25"/>
<line x1="1317.60" y1="104.05" x2="1317.60" y2="111.34" stroke="#000" stroke-width="1.667"/>
<line x1="1317.60" y1="667.9" x2="1317.60" y2="660.61" stroke="#000" stroke-width="1.667"/>
<line x1="1317.60" y1="667.9" x2="1317.60" y2="675.19" stroke="#000" stroke-width="1.667"/>
<line x1="1317.60" y1="1231.5" x2="1317.60" y2="1224.21" stroke="#000" stroke-width="1.667"/>
<line x1="1408.35" y1="104.05" x2="1408.35" y2="108.22" stroke="#000" stroke-width="1.25"/>
<line x1="1408.35" y1="667.9" x2="1408.35" y2="663.73" stroke="#000" stroke-width="1.25"/>
<line x1="1408.35" y1="667.9" x2="1408.35" y2="672.07" stroke="#000" stroke-width="1.25"/>
<line x1="1408.35" y1="1231.5" x2="1408.35" y2="1227.33" stroke="#000" stroke-width="1.25"/>
<rect x="137.85" y="104.05" width="1361.25" height="563.85" fill="none" stroke="#000" stroke-width="1.667"/>
<rect x="137.85" y="667.9" width="1361.25" height="563.6" fill="none" stroke="#000" stroke-width="1.667"/>
<text x="130.6" y="585.80" font-family="'DejaVu Sans', 'Liberation Sans', sans-serif" font-size="37.5" text-anchor="end">60</text>
<text x="130.6" y="477.80" font-family="'DejaVu Sans', 'Liberation Sans', sans-serif" font-size="37.5" text-anchor="end">66</text>
<text x="130.6" y="369.80" font-family="'DejaVu Sans', 'Liberation Sans', sans-serif" font-size="37.5" text-anchor="end">72</text>
<text x="130.6" y="261.80" font-family="'DejaVu Sans', 'Liberation Sans', sans-serif" font-size="37.5" text-anchor="end">78</text>
<text x="130.6" y="153.80" font-family="'DejaVu Sans', 'Liberation Sans', sans-serif" font-size="37.5" text-anchor="end">84</text>
<text x="130.6" y="1193.80" font-family="'DejaVu Sans', 'Liberation Sans', sans-serif" font-size="37.5" text-anchor="end">100</text>
<text x="130.6" y="1091.30" font-family="'DejaVu Sans', 'Liberation Sans', sans-serif" font-size="37.5" text-anchor="end">110</text>
<text x="130.6" y="988.80" font-family="'DejaVu Sans', 'Liberation Sans', sans-serif" font-size="37.5" text-anchor="end">120</text>
<text x="130.6" y="886.30" font-family="'DejaVu Sans', 'Liberation Sans', sans-serif" font-size="37.5" text-anchor="end">130</text>
<text x="130.6" y="783.80" font-family="'DejaVu Sans', 'Liberation Sans', sans-serif" font-size="37.5" text-anchor="end">140</text>
<text x="130.6" y="681.30" font-family="'DejaVu Sans', 'Liberation Sans', sans-serif" font-size="37.5" text-anchor="end">150</text>
<text x="228.60" y="1266.3" font-family="'DejaVu Sans', 'Liberation Sans', sans-serif" font-size="37.5" text-anchor="middle">0.08</text>
<text x="591.60" y="1266.3" font-family="'DejaVu Sans', 'Liberation Sans', sans-serif" font-size="37.5" text-anchor="middle">0.12</text>
<text x="954.60" y="1266.3" font-family="'DejaVu Sans', 'Liberation Sans', sans-serif" font-size="37.5" text-anchor="middle">0.16</text>
<text x="1317.60" y="1266.3" font-family="'DejaVu Sans', 'Liberation Sans', sans-serif" font-size="37.5" text-anchor="middle">0.20</text>
<text x="1464.3" y="352.7" font-family="'DejaVu Sans', 'Liberation Sans', sans-serif" font-size="51" text-anchor="end">R20</text>
<text x="1474.2" y="1198.7" font-family="'DejaVu Sans', 'Liberation Sans', sans-serif" font-size="51" text-anchor="end">BAO</text>
<rect x="146.3" y="677.9" width="634.3" height="280.0" rx="3" ry="3" fill="#fff" fill-opacity="0.8" stroke="#d6d6d6" stroke-width="2.08"/>
<circle cx="171.30" cy="709.50" r="6.20" fill="#ff0000" stroke="#ff0000" stroke-width="2.083"/>
<text x="184.7" y="715.30" font-family="'DejaVu Sans', 'Liberation Sans', sans-serif" font-size="16.67">Early Dark Energy</text>
<path d="M168.12 727.55L171.30 730.73L174.48 727.55L177.65 730.73L174.48 733.90L177.65 737.07L174.48 740.25L171.30 737.07L168.12 740.25L164.95 737.07L168.12 733.90L164.95 730.73Z" fill="#ff00ff" stroke="#ff00ff" stroke-width="2.083" stroke-linejoin="round"/>
<text x="184.7" y="739.70" font-family="'DejaVu Sans', 'Liberation Sans', sans-serif" font-size="16.67">Late Dark Energy</text>
<path d="M171.30 749.77L176.48 758.40L171.30 767.03L166.12 758.40Z" fill="#808080" stroke="#808080" stroke-width="2.083" stroke-linejoin="miter"/>
<text x="184.7" y="764.20" font-family="'DejaVu Sans', 'Liberation Sans', sans-serif" font-size="16.67">Dark Energy models with 6 degrees of freedom and their extensions</text>
<path d="M169.22 776.55L173.38 776.55L173.38 780.72L177.55 780.72L177.55 784.88L173.38 784.88L173.38 789.05L169.22 789.05L169.22 784.88L165.05 784.88L165.05 780.72L169.22 780.72Z" fill="#008000" stroke="#008000" stroke-width="2.083" stroke-linejoin="miter"/>
<text x="184.7" y="788.60" font-family="'DejaVu Sans', 'Liberation Sans', sans-serif" font-size="16.67">Models with Extra Relativistic Degrees of Freedom</text>
<path d="M171.30 801.50L170.02 805.44L165.88 805.44L169.23 807.87L167.95 811.81L171.30 809.38L174.65 811.81L173.37 807.87L176.72 805.44L172.58 805.44Z" fill="#00bfff" stroke="#00bfff" stroke-width="2.083" stroke-linejoin="round"/>
<text x="184.7" y="813.00" font-family="'DejaVu Sans', 'Liberation Sans', sans-serif" font-size="16.67">Models with Extra Interactions</text>
<path d="M171.30 825.75L165.35 837.65L177.25 837.65Z" fill="#ff8c00" stroke="#ff8c00" stroke-width="2.083" stroke-linejoin="miter"/>
<text x="184.7" y="837.50" font-family="'DejaVu Sans', 'Liberation Sans', sans-serif" font-size="16.67">Unified cosmolgies, Modified gravity</text>
<path d="M171.30 850.15L165.35 862.05L177.25 862.05Z" fill="#ff8c00" stroke="#ff8c00" stroke-width="2.083" stroke-linejoin="miter"/>
<text x="184.7" y="861.90" font-family="'DejaVu Sans', 'Liberation Sans', sans-serif" font-size="16.67">Unified cosmolgies, Modified gravity</text>
<path d="M171.30 898.15L165.35 886.25L177.25 886.25Z" fill="#800080" stroke="#800080" stroke-width="2.083" stroke-linejoin="miter"/>
<text x="184.7" y="886.0" font-family="'DejaVu Sans', 'Liberation Sans', sans-serif" font-size="16.67">Inflationary models, Modified recombination history,</text>
<text x="184.7" y="904.1" font-family="'DejaVu Sans', 'Liberation Sans', sans-serif" font-size="16.67">Physics of the critical Phenomena, Alternative proposals</text>
<path d="M165.55 917.25L177.05 928.75M165.55 928.75L177.05 917.25" stroke="#000" stroke-width="1.9" fill="none"/>
<text x="184.7" y="928.80" font-family="'DejaVu Sans', 'Liberation Sans', sans-serif" font-size="16.67">Standard <tspan font-family="Liberation Serif, serif">Λ</tspan>CDM</text>
<text transform="matrix(0.44353 0 0 0.40429 352.26 34.50)" font-family="'Liberation Serif', 'DejaVu Serif', serif" font-style="italic" font-size="100">Number</text>
<text transform="matrix(0.47442 0 0 0.40000 506.68 34.10)" font-family="'Liberation Serif', 'DejaVu Serif', serif" font-style="italic" font-size="100">of</text>
<text transform="matrix(0.40000 0 0 0.44000 558.50 34.76)" font-family="'Liberation Serif', 'DejaVu Serif', serif" font-style="normal" font-size="100">(</text>
<text transform="matrix(0.44387 0 0 0.43206 573.94 34.90)" font-family="'Liberation Serif', 'DejaVu Serif', serif" font-style="italic" font-size="100">H</text>
<text transform="matrix(0.31429 0 0 0.29333 604.44 41.51)" font-family="'Liberation Serif', 'DejaVu Serif', serif" font-style="normal" font-size="100">0</text>
<text transform="matrix(0.45517 0 0 0.51765 623.68 34.74)" font-family="'Liberation Serif', 'DejaVu Serif', serif" font-style="normal" font-size="100">,</text>
<text transform="matrix(0.38906 0 0 0.43939 640.45 34.90)" font-family="'Liberation Serif', 'DejaVu Serif', serif" font-style="normal" font-size="100">Ω</text>
<text transform="matrix(0.37519 0 0 0.36344 671.19 41.98)" font-family="'Liberation Serif', 'DejaVu Serif', serif" font-style="italic" font-size="100">m</text>
<text transform="matrix(0.48235 0 0 0.41752 700.11 35.41)" font-family="'Liberation Serif', 'DejaVu Serif', serif" font-style="italic" font-size="100">h</text>
<text transform="matrix(0.27500 0 0 0.25606 728.46 19.10)" font-family="'Liberation Serif', 'DejaVu Serif', serif" font-style="normal" font-size="100">2</text>
<text transform="matrix(0.39615 0 0 0.44000 745.31 34.76)" font-family="'Liberation Serif', 'DejaVu Serif', serif" font-style="normal" font-size="100">)</text>
<text transform="matrix(0.44984 0 0 0.40857 770.05 34.79)" font-family="'Liberation Serif', 'DejaVu Serif', serif" font-style="italic" font-size="100">dots</text>
<text transform="matrix(0.40000 0 0 0.44000 856.50 34.76)" font-family="'Liberation Serif', 'DejaVu Serif', serif" font-style="normal" font-size="100">(</text>
<text transform="matrix(0.44655 0 0 0.40000 870.86 34.10)" font-family="'Liberation Serif', 'DejaVu Serif', serif" font-style="italic" font-size="100">colorful</text>
<text transform="matrix(0.39615 0 0 0.44000 1013.81 34.76)" font-family="'Liberation Serif', 'DejaVu Serif', serif" font-style="normal" font-size="100">)</text>
<text transform="matrix(0.60000 0 0 0.44000 1045.00 38.32)" font-family="'Liberation Serif', 'DejaVu Serif', serif" font-style="normal" font-size="100">=</text>
<text transform="matrix(0.41752 0 0 0.42370 1093.34 34.78)" font-family="'Liberation Serif', 'DejaVu Serif', serif" font-style="normal" font-size="100">180</text>
<text transform="matrix(0.44365 0 0 0.40429 352.22 86.00)" font-family="'Liberation Serif', 'DejaVu Serif', serif" font-style="italic" font-size="100">Number</text>
<text transform="matrix(0.47442 0 0 0.40109 506.68 85.58)" font-family="'Liberation Serif', 'DejaVu Serif', serif" font-style="italic" font-size="100">of</text>
<text transform="matrix(0.40000 0 0 0.44778 558.50 86.80)" font-family="'Liberation Serif', 'DejaVu Serif', serif" font-style="normal" font-size="100">(</text>
<text transform="matrix(0.48000 0 0 0.39355 571.58 86.10)" font-family="'Liberation Serif', 'DejaVu Serif', serif" font-style="italic" font-size="100">r</text>
<text transform="matrix(0.29574 0 0 0.30429 590.21 93.00)" font-family="'Liberation Serif', 'DejaVu Serif', serif" font-style="italic" font-size="100">d</text>
<text transform="matrix(0.44706 0 0 0.41752 607.14 86.91)" font-family="'Liberation Serif', 'DejaVu Serif', serif" font-style="italic" font-size="100">h</text>
<text transform="matrix(0.45517 0 0 0.51765 631.78 86.24)" font-family="'Liberation Serif', 'DejaVu Serif', serif" font-style="normal" font-size="100">,</text>
<text transform="matrix(0.38906 0 0 0.43333 649.25 85.90)" font-family="'Liberation Serif', 'DejaVu Serif', serif" font-style="normal" font-size="100">Ω</text>
<text transform="matrix(0.37519 0 0 0.36344 679.99 93.48)" font-family="'Liberation Serif', 'DejaVu Serif', serif" font-style="italic" font-size="100">m</text>
<text transform="matrix(0.48235 0 0 0.41752 708.21 86.91)" font-family="'Liberation Serif', 'DejaVu Serif', serif" font-style="italic" font-size="100">h</text>
<text transform="matrix(0.29500 0 0 0.25606 736.37 69.80)" font-family="'Liberation Serif', 'DejaVu Serif', serif" font-style="normal" font-size="100">2</text>
<text transform="matrix(0.42308 0 0 0.44778 753.33 86.80)" font-family="'Liberation Serif', 'DejaVu Serif', serif" font-style="normal" font-size="100">)</text>
<text transform="matrix(0.44548 0 0 0.40857 778.86 86.29)" font-family="'Liberation Serif', 'DejaVu Serif', serif" font-style="italic" font-size="100">dots</text>
<text transform="matrix(0.40000 0 0 0.44778 865.30 86.80)" font-family="'Liberation Serif', 'DejaVu Serif', serif" font-style="normal" font-size="100">(</text>
<text transform="matrix(0.44783 0 0 0.40109 879.26 85.58)" font-family="'Liberation Serif', 'DejaVu Serif', serif" font-style="italic" font-size="100">colorful</text>
<text transform="matrix(0.39615 0 0 0.44778 1022.61 86.80)" font-family="'Liberation Serif', 'DejaVu Serif', serif" font-style="normal" font-size="100">)</text>
<text transform="matrix(0.58280 0 0 0.44000 1053.89 90.52)" font-family="'Liberation Serif', 'DejaVu Serif', serif" font-style="normal" font-size="100">=</text>
<text transform="matrix(0.41413 0 0 0.41333 1102.84 86.29)" font-family="'Liberation Serif', 'DejaVu Serif', serif" font-style="normal" font-size="100">85</text>
<text transform="matrix(0 -0.55613 0.52214 0 60.40 602.54)" font-family="'Liberation Serif', 'DejaVu Serif', serif" font-style="italic" font-size="100">H</text>
<text transform="matrix(0 -0.32143 0.33333 0 69.07 561.29)" font-family="'Liberation Serif', 'DejaVu Serif', serif" font-style="normal" font-size="100">0</text>
<text transform="matrix(0 -0.32727 0.61091 0 64.75 521.95)" font-family="'Liberation Serif', 'DejaVu Serif', serif" font-style="normal" font-size="100">[</text>
<text transform="matrix(0 -0.62466 0.50870 0 61.30 511.47)" font-family="'Liberation Serif', 'DejaVu Serif', serif" font-style="italic" font-size="100">km</text>
<text transform="matrix(0 -0.52174 0.48750 0 60.81 422.18)" font-family="'Liberation Serif', 'DejaVu Serif', serif" font-style="italic" font-size="100">s</text>
<text transform="matrix(0 -0.41466 0.34351 0 40.60 395.97)" font-family="'Liberation Serif', 'DejaVu Serif', serif" font-style="normal" font-size="100">−1</text>
<text transform="matrix(0 -0.53690 0.51279 0 59.53 329.46)" font-family="'Liberation Serif', 'DejaVu Serif', serif" font-style="italic" font-size="100">Mpc</text>
<text transform="matrix(0 -0.41466 0.34351 0 40.60 230.47)" font-family="'Liberation Serif', 'DejaVu Serif', serif" font-style="normal" font-size="100">−1</text>
<text transform="matrix(0 -0.28000 0.61576 0 64.69 182.58)" font-family="'Liberation Serif', 'DejaVu Serif', serif" font-style="normal" font-size="100">]</text>
<text transform="matrix(0 -0.60000 0.50538 0 38.95 1050.50)" font-family="'Liberation Serif', 'DejaVu Serif', serif" font-style="italic" font-size="100">r</text>
<text transform="matrix(0 -0.36809 0.35857 0 47.04 1026.10)" font-family="'Liberation Serif', 'DejaVu Serif', serif" font-style="italic" font-size="100">d</text>
<text transform="matrix(0 -0.59059 0.52263 0 38.96 1003.97)" font-family="'Liberation Serif', 'DejaVu Serif', serif" font-style="italic" font-size="100">h</text>
<text transform="matrix(0 -0.31818 0.61212 0 42.44 971.79)" font-family="'Liberation Serif', 'DejaVu Serif', serif" font-style="normal" font-size="100">[</text>
<text transform="matrix(0 -0.53239 0.51860 0 36.81 958.27)" font-family="'Liberation Serif', 'DejaVu Serif', serif" font-style="italic" font-size="100">Mpc</text>
<text transform="matrix(0 -0.32000 0.61333 0 42.52 864.52)" font-family="'Liberation Serif', 'DejaVu Serif', serif" font-style="normal" font-size="100">]</text>
<text transform="matrix(0.51562 0 0 0.54545 752.92 1325.00)" font-family="'Liberation Serif', 'DejaVu Serif', serif" font-style="normal" font-size="100">Ω</text>
<text transform="matrix(0.46512 0 0 0.34409 791.37 1333.17)" font-family="'Liberation Serif', 'DejaVu Serif', serif" font-style="italic" font-size="100">m</text>
<text transform="matrix(0.60000 0 0 0.52555 827.40 1325.76)" font-family="'Liberation Serif', 'DejaVu Serif', serif" font-style="italic" font-size="100">h</text>
<text transform="matrix(0.37500 0 0 0.35606 861.81 1305.50)" font-family="'Liberation Serif', 'DejaVu Serif', serif" font-style="normal" font-size="100">2</text>
</svg></body></html>
